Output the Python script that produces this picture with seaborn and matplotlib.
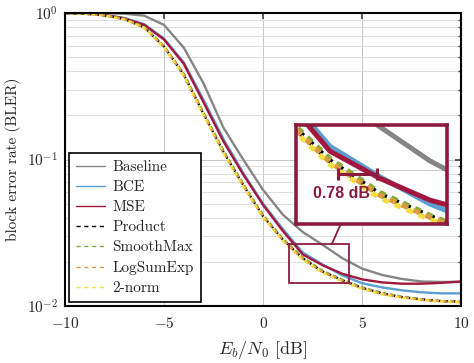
import matplotlib.pyplot as plt
import numpy as np
import seaborn as sns
from matplotlib.patches import Rectangle, ConnectionPatch
from matplotlib.ticker import NullFormatter

# Eb/N0 grid [dB]
snr_db = list(range(-10, 11))

baseline = [1.0, 1.0, 1.0, 0.99, 0.96, 0.83, 0.58, 0.33, 0.165, 0.100, 0.062,
            0.042, 0.032, 0.0262, 0.0212, 0.0180, 0.0163, 0.0153, 0.0147, 0.0146, 0.0146]
bce = [1.0, 0.995, 0.97, 0.925, 0.84, 0.67, 0.46, 0.255, 0.138, 0.081, 0.050,
       0.0335, 0.0232, 0.0192, 0.0162, 0.0143, 0.0134, 0.0128, 0.0124, 0.0122, 0.0122]
mse = [1.0, 0.995, 0.97, 0.92, 0.83, 0.66, 0.45, 0.245, 0.133, 0.079, 0.049,
       0.0325, 0.0225, 0.0190, 0.0166, 0.0152, 0.0145, 0.0142, 0.0142, 0.0144, 0.0147]
product = [1.0, 0.99, 0.965, 0.91, 0.80, 0.59, 0.38, 0.205, 0.113, 0.067, 0.041,
           0.0284, 0.0212, 0.0172, 0.0150, 0.0133, 0.0122, 0.0115, 0.0111, 0.0108, 0.0107]
smoothmax = [1.0, 0.99, 0.966, 0.912, 0.803, 0.595, 0.384, 0.208, 0.115, 0.068, 0.0418,
             0.0288, 0.0215, 0.0174, 0.0151, 0.0134, 0.0123, 0.0116, 0.0111, 0.0108, 0.0107]
logsumexp = [1.0, 0.99, 0.964, 0.909, 0.798, 0.588, 0.378, 0.204, 0.112, 0.0665, 0.0408,
             0.0282, 0.0210, 0.0171, 0.0149, 0.0132, 0.0121, 0.0115, 0.0110, 0.0108, 0.0106]
two_norm = [1.0, 0.99, 0.962, 0.905, 0.792, 0.582, 0.372, 0.200, 0.110, 0.0655, 0.0402,
            0.0278, 0.0207, 0.0168, 0.0147, 0.0131, 0.0120, 0.0114, 0.0110, 0.0107, 0.0106]

labels = ["Baseline", "BCE", "MSE", "Product", "SmoothMax", "LogSumExp", "2-norm"]
values = [baseline, bce, mse, product, smoothmax, logsumexp, two_norm]
colors = ["#858585", "#5b9fd0", "#a3173f", "#000000", "#86ac3c", "#dc9a42", "#f4dd3c"]
dashed = [False, False, False, True, True, True, True]
dash_offset = [0, 0, 0, 0, 1.0, 0.5, 1.6]

# zoom window and gap annotation
zoom_x = (1.32, 4.34)
zoom_y = (0.0143, 0.0265)
gap_x = (2.17, 2.95)
gap_y = 0.0195
maroon = "#8c1c3e"

sns.set_theme(style="white")
plt.rcParams.update({
    "font.family": "serif",
    "font.serif": ["cmr10"],
    "mathtext.fontset": "cm",
    "axes.formatter.use_mathtext": True,
    "axes.unicode_minus": True,
})

fig = plt.figure(figsize=(4.74, 3.63), dpi=100)
ax = fig.add_axes([0.137, 0.157, 0.836, 0.807])

for name, vals, color, is_dash, off in zip(labels, values, colors, dashed, dash_offset):
    ls = (off, (1.6, 1.6)) if is_dash else "-"
    sns.lineplot(x=snr_db, y=vals, ax=ax, color=color, linestyle=ls, lw=1.7, label=name)

ax.set_yscale("log")
ax.set_xlim(-10, 10)
ax.set_ylim(0.01, 1)
ax.set_xticks([-10, -5, 0, 5, 10])
ax.yaxis.set_minor_formatter(NullFormatter())
ax.grid(which="major", color="#c8c8c8", lw=0.7)
ax.grid(which="minor", axis="y", color="#d8d8d8", lw=0.6)
ax.tick_params(which="both", direction="in", top=True, right=True, labelsize=11, color="#444444")
ax.tick_params(which="major", length=4)
ax.tick_params(which="minor", length=2)
ax.tick_params(axis="x", pad=7)
ax.tick_params(axis="y", pad=5)
for s in ax.spines.values():
    s.set_color("black")
    s.set_linewidth(1.5)
ax.set_xlabel(r"$E_b/N_0$ [dB]", fontsize=13, labelpad=6)
ax.set_ylabel("block error rate (BLER)", fontsize=11, labelpad=4)

leg = ax.legend(loc="lower left", bbox_to_anchor=(0.01, 0.014), borderaxespad=0,
                fontsize=11, frameon=True, fancybox=False, framealpha=1,
                edgecolor="black", handlelength=1.9, labelspacing=0.42,
                borderpad=0.45, handletextpad=0.5)
leg.get_frame().set_linewidth(1.2)
for line, is_dash in zip(leg.get_lines(), dashed):
    line.set_linewidth(1.0)
    if is_dash:
        line.set_linestyle((0, (3.0, 2.6)))

# zoom box on the main axes
ax.add_patch(Rectangle((zoom_x[0], zoom_y[0]), zoom_x[1] - zoom_x[0], zoom_y[1] - zoom_y[0],
                       fill=False, edgecolor=maroon, lw=1.3, zorder=5))

# inset
ax_in = fig.add_axes([0.6245, 0.383, 0.318, 0.2727])
for name, vals, color, is_dash, off in zip(labels, values, colors, dashed, dash_offset):
    ls = (off * 0.8, (1.3, 1.3)) if is_dash else "-"
    sns.lineplot(x=snr_db, y=vals, ax=ax_in, color=color, linestyle=ls, lw=3.6, legend=False)
ax_in.set_yscale("log")
ax_in.set_xlim(*zoom_x)
ax_in.set_ylim(*zoom_y)
ax_in.set_xticks([])
ax_in.set_yticks([0.02])
ax_in.yaxis.set_minor_locator(plt.NullLocator())
ax_in.set_yticklabels([])
ax_in.tick_params(length=0)
ax_in.grid(axis="y", color="#c8c8c8", lw=0.7)
ax_in.set_xlabel("")
ax_in.set_ylabel("")
ax_in.set_facecolor("white")
for s in ax_in.spines.values():
    s.set_color(maroon)
    s.set_linewidth(2.6)

ax_in.plot(gap_x, [gap_y, gap_y], color=maroon, lw=2.2, marker="|", ms=9, mew=2.2, zorder=6)
ax_in.text(0.30, 0.31, "0.78 dB", transform=ax_in.transAxes, ha="center", va="center",
           fontsize=11.5, fontweight="bold", family="Liberation Sans", color=maroon, zorder=7)

con = ConnectionPatch(xyA=(3.47, zoom_y[1]), coordsA=ax.transData,
                      xyB=(0.297, 0.0), coordsB=ax_in.transAxes,
                      color=maroon, lw=1.3)
fig.add_artist(con)

fig.savefig("out.png", dpi=100)
